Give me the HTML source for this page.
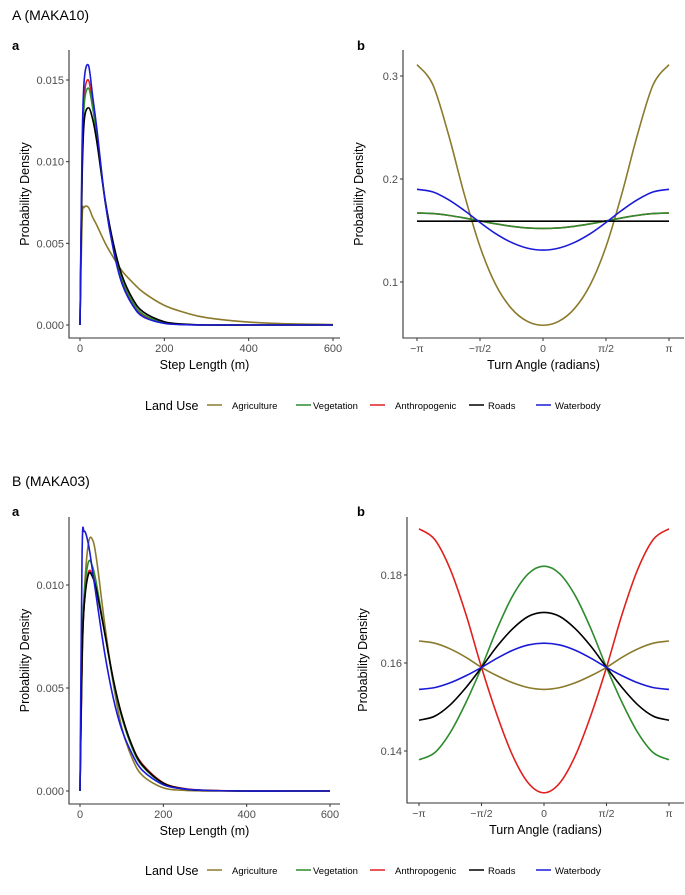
<!DOCTYPE html>
<html><head><meta charset="utf-8"><style>
body{margin:0;background:#fff;width:685px;height:890px;overflow:hidden;font-family:"Liberation Sans",sans-serif}
svg text{font-family:"Liberation Sans",sans-serif}
</style></head><body>
<svg id="c" width="685" height="890"></svg>
<script>
const stepX=[0,5,10,20,30,40,60,80,100,125,150,200,250,300,400,500,600];
const A_step_agri=[0,6.5,7.2,7.2,6.6,6.1,5.0,4.1,3.3,2.6,2.0,1.2,0.75,0.45,0.18,0.07,0.03];
const A_step_veg=[0,9.5,13.5,14.5,13.3,11.5,7.5,4.7,2.8,1.4,0.65,0.14,0.03,0,0,0,0];
const A_step_anth=[0,10,14,15,13.5,11.6,7.5,4.6,2.7,1.3,0.6,0.12,0.03,0,0,0,0];
const A_step_roads=[0,9,12.5,13.3,12.6,11.2,7.6,4.9,3.0,1.6,0.8,0.2,0.05,0,0,0,0];
const A_step_water=[0,11,15,15.9,14,12,7.5,4.5,2.5,1.2,0.5,0.1,0.02,0,0,0,0];
const B_step_agri=[0,6,9.5,12.0,12.2,11.2,8.0,5.2,3.1,1.6,0.75,0.15,0.03,0,0,0,0];
const B_step_veg=[0,7,9.5,11.1,10.9,10.0,7.6,5.3,3.6,2.1,1.2,0.35,0.1,0.03,0,0,0];
const B_step_anth=[0,6.5,9,10.6,10.5,9.8,7.6,5.4,3.7,2.2,1.3,0.4,0.12,0.04,0,0,0];
const B_step_roads=[0,6.5,9,10.5,10.4,9.7,7.6,5.4,3.7,2.2,1.25,0.38,0.1,0.03,0,0,0];
const B_step_water=[0,11.5,12.6,12.0,10.7,9.3,6.6,4.5,3.0,1.8,1.0,0.3,0.1,0.03,0,0,0];
const angX=[-1,-0.875,-0.75,-0.625,-0.5,-0.375,-0.25,-0.125,0,0.125,0.25,0.375,0.5,0.625,0.75,0.875,1]; // multiples of pi
const A_ang_agri=[0.311,0.2918,0.2432,0.1853,0.1343,0.0973,0.0742,0.0618,0.058,0.0618,0.0742,0.0973,0.1343,0.1853,0.2432,0.2918,0.311];
const A_ang_veg=[0.167,0.1664,0.1647,0.1622,0.1593,0.1565,0.1541,0.1525,0.152,0.1525,0.1541,0.1565,0.1593,0.1622,0.1647,0.1664,0.167];
const A_ang_anth=[0.167,0.1664,0.1647,0.1622,0.1593,0.1565,0.1541,0.1525,0.152,0.1525,0.1541,0.1565,0.1593,0.1622,0.1647,0.1664,0.167];
const A_ang_roads=[0.159,0.159,0.159,0.159,0.159,0.159,0.159,0.159,0.159,0.159,0.159,0.159,0.159,0.159,0.159,0.159,0.159];
const A_ang_water=[0.19,0.1875,0.1799,0.1695,0.1578,0.1469,0.1384,0.1329,0.131,0.1329,0.1384,0.1469,0.1578,0.1695,0.1799,0.1875,0.19];
const B_ang_agri=[0.165,0.1645,0.1632,0.1613,0.159,0.1571,0.1555,0.1544,0.154,0.1544,0.1555,0.1571,0.159,0.1613,0.1632,0.1645,0.165];
const B_ang_veg=[0.138,0.1396,0.1442,0.151,0.159,0.1678,0.1753,0.1803,0.182,0.1803,0.1753,0.1678,0.159,0.151,0.1442,0.1396,0.138];
const B_ang_anth=[0.1905,0.1881,0.1813,0.1711,0.159,0.1481,0.1389,0.1327,0.1305,0.1327,0.1389,0.1481,0.159,0.1711,0.1813,0.1881,0.1905];
const B_ang_roads=[0.147,0.1479,0.1505,0.1544,0.159,0.1638,0.1678,0.1706,0.1715,0.1706,0.1678,0.1638,0.159,0.1544,0.1505,0.1479,0.147];
const B_ang_water=[0.154,0.1544,0.1555,0.1571,0.159,0.1611,0.1629,0.1641,0.1645,0.1641,0.1629,0.1611,0.159,0.1571,0.1555,0.1544,0.154];
const stepTicks=[0,200,400,600];
const A_stepYT=[0,0.005,0.010,0.015], B_stepYT=[0,0.005,0.010];
const A_angYT=[0.1,0.2,0.3], B_angYT=[0.14,0.16,0.18];
const angTicks=[-1,-0.5,0,0.5,1], angLabels=["−π","−π/2","0","π/2","π"];
const seriesNames=["Agriculture","Vegetation","Anthropogenic","Roads","Waterbody"];
const colors=["#8b7a2b","#2e8b2e","#e0201e","#000000","#1a1ad8"];
const drawOrder=[0,2,1,3,4];

const NS="http://www.w3.org/2000/svg", svg=document.getElementById('c');
function el(t,a,p){const e=document.createElementNS(NS,t);for(const k in a)e.setAttribute(k,a[k]);(p||svg).appendChild(e);return e;}
function txt(s,x,y,a,name){const t=el('text',Object.assign({x:x,y:y},a));t.textContent=s;return t;}
function lin(d0,d1,r0,r1){return v=>r0+(v-d0)*(r1-r0)/(d1-d0);}
function smooth(pts){let d=`M${pts[0][0]},${pts[0][1]}`;for(let i=0;i<pts.length-1;i++){const p0=pts[i-1]||pts[i],p1=pts[i],p2=pts[i+1],p3=pts[i+2]||p2;
const c1=[p1[0]+(p2[0]-p0[0])/6,p1[1]+(p2[1]-p0[1])/6],c2=[p2[0]-(p3[0]-p1[0])/6,p2[1]-(p3[1]-p1[1])/6];
d+=`C${c1[0].toFixed(2)},${c1[1].toFixed(2)} ${c2[0].toFixed(2)},${c2[1].toFixed(2)} ${p2[0].toFixed(2)},${p2[1].toFixed(2)}`;}return d;}
function panel(o){
 const g=el('g',{});
 const ax=el('path',{d:`M${o.L},${o.T}V${o.B}H${o.R}`,stroke:'#333',fill:'none','stroke-width':1.1},g);
 
 o.xt.forEach((v,i)=>{const x=o.sx(v);const tk=el('line',{x1:x,x2:x,y1:o.B,y2:o.B+3,stroke:'#333'},g);
  txt(o.xl[i],x,o.B+14,{'font-size':o.angle?10.5:11,fill:'#4d4d4d','text-anchor':'middle','font-family':o.angle?'"Liberation Serif",serif':'"Liberation Sans",sans-serif'},'x-tick-label');});
 o.yt.forEach((v,i)=>{const y=o.sy(v);const tk=el('line',{x1:o.L-3,x2:o.L,y1:y,y2:y,stroke:'#333'},g);
  txt(o.yl[i],o.L-5,y+4,{'font-size':11,fill:'#4d4d4d','text-anchor':'end'},'y-tick-label');});
 txt(o.xtitle,(o.L+o.R)/2,o.B+31,{'font-size':12.5,fill:'#000','text-anchor':'middle'},'x-axis-title');
 const yc=(o.T+o.B)/2;txt('Probability Density',o.L-40,yc,{'font-size':12.5,fill:'#000','text-anchor':'middle',transform:`rotate(-90 ${o.L-40} ${yc})`},'y-axis-title');
 drawOrder.forEach(i=>{const s=o.series[i];const pts=o.xs.map((x,j)=>[o.sx(x),o.sy(s[j])]);
  const p=el('path',{d:smooth(pts),stroke:colors[i],fill:'none','stroke-width':1.6},g);
  });
}
function legend(y){
 txt('Land Use',145,y+5,{'font-size':12.5,fill:'#000'},'legend-title');
 const lx=[207,296,370,469,536],tx=[232,313,395,488,555];
 seriesNames.forEach((n,i)=>{const l=el('line',{x1:lx[i],x2:lx[i]+15,y1:y,y2:y,stroke:colors[i],'stroke-width':1.5});
  
  txt(n,tx[i],y+4,{'font-size':9.5,fill:'#000'},'legend-entry');});
}
txt('A (MAKA10)',12,20,{'font-size':14},'title-a');
txt('a',12,50,{'font-size':13,'font-weight':'bold'},'panel-a-label');
txt('b',357,50,{'font-size':13,'font-weight':'bold'},'panel-b-label');
txt('B (MAKA03)',12,486,{'font-size':14},'title-b');
txt('a',12,516,{'font-size':13,'font-weight':'bold'},'panel-a-label-b');
txt('b',357,516,{'font-size':13,'font-weight':'bold'},'panel-b-label-b');
const fmt3=v=>v.toFixed(3);
panel({name:'panel-A-step',L:69,R:340,T:50,B:338,sx:lin(0,600,80,333),sy:lin(0,15,325,80),xs:stepX,
 series:[A_step_agri,A_step_veg,A_step_anth,A_step_roads,A_step_water],xt:stepTicks,xl:stepTicks.map(String),
 yt:A_stepYT.map(v=>v*1000),yl:A_stepYT.map(fmt3),xtitle:'Step Length (m)'});
panel({name:'panel-A-angle',L:403,R:684,T:50,B:338,angle:true,sx:lin(-1,1,417,669),sy:lin(0.1,0.3,282,76),xs:angX,
 series:[A_ang_agri,A_ang_veg,A_ang_anth,A_ang_roads,A_ang_water],xt:angTicks,xl:angLabels,
 yt:A_angYT,yl:A_angYT.map(v=>v.toFixed(1)),xtitle:'Turn Angle (radians)'});
panel({name:'panel-B-step',L:69,R:340,T:517,B:804,sx:lin(0,600,80,330),sy:lin(0,10,791,585),xs:stepX,
 series:[B_step_agri,B_step_veg,B_step_anth,B_step_roads,B_step_water],xt:stepTicks,xl:stepTicks.map(String),
 yt:B_stepYT.map(v=>v*1000),yl:B_stepYT.map(fmt3),xtitle:'Step Length (m)'});
panel({name:'panel-B-angle',L:407,R:684,T:517,B:803,angle:true,sx:lin(-1,1,419,669),sy:lin(0.14,0.18,751,575),xs:angX,
 series:[B_ang_agri,B_ang_veg,B_ang_anth,B_ang_roads,B_ang_water],xt:angTicks,xl:angLabels,
 yt:B_angYT,yl:B_angYT.map(v=>v.toFixed(2)),xtitle:'Turn Angle (radians)'});
legend(405);
legend(870);
</script>
</body></html>
